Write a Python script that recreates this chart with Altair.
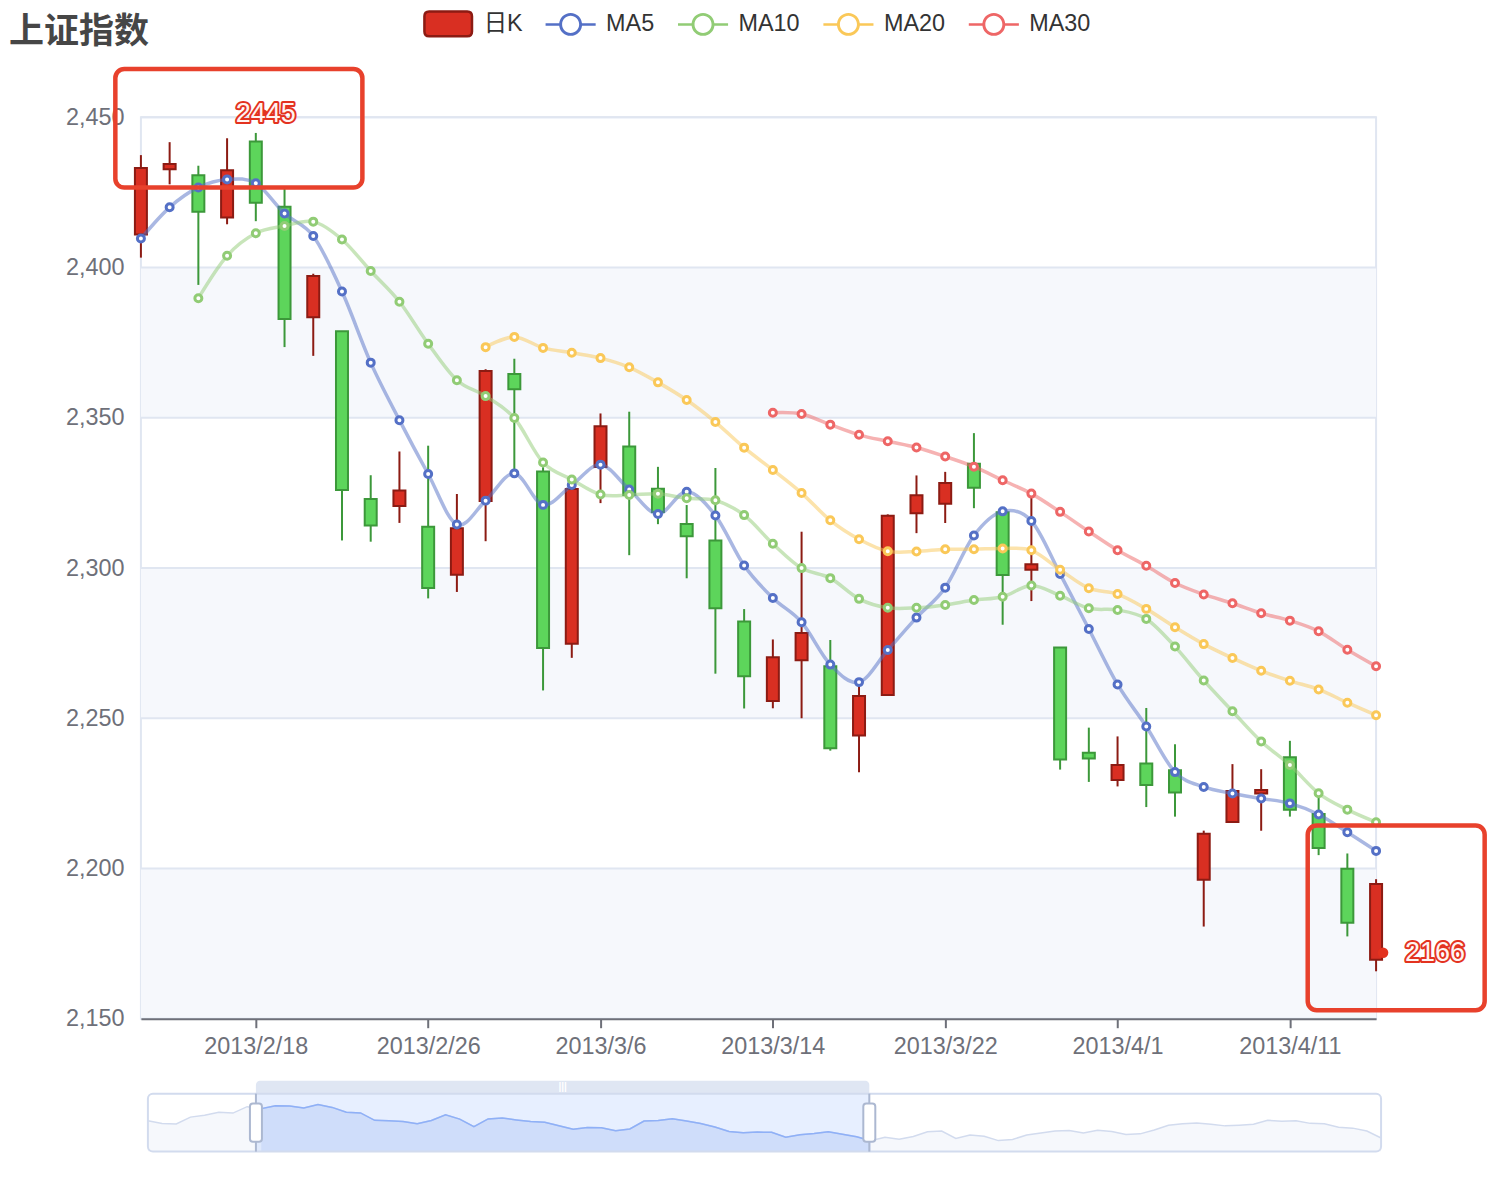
import json
import altair as alt
import pandas as pd

# ---------------- data (上证指数, daily K: open / close / low / high) ----------------
dates = ['2013/1/24', '2013/1/25', '2013/1/28', '2013/1/29', '2013/1/30', '2013/1/31', '2013/2/1', '2013/2/4',
         '2013/2/5', '2013/2/6', '2013/2/7', '2013/2/8', '2013/2/18', '2013/2/19', '2013/2/20', '2013/2/21',
         '2013/2/22', '2013/2/25', '2013/2/26', '2013/2/27', '2013/2/28', '2013/3/1', '2013/3/4', '2013/3/5',
         '2013/3/6', '2013/3/7', '2013/3/8', '2013/3/11', '2013/3/12', '2013/3/13', '2013/3/14', '2013/3/15',
         '2013/3/18', '2013/3/19', '2013/3/20', '2013/3/21', '2013/3/22', '2013/3/25', '2013/3/26', '2013/3/27',
         '2013/3/28', '2013/3/29', '2013/4/1', '2013/4/2', '2013/4/3', '2013/4/8', '2013/4/9', '2013/4/10',
         '2013/4/11', '2013/4/12', '2013/4/15', '2013/4/16', '2013/4/17', '2013/4/18', '2013/4/19', '2013/4/22',
         '2013/4/23', '2013/4/24', '2013/4/25', '2013/4/26', '2013/5/2', '2013/5/3', '2013/5/6', '2013/5/7',
         '2013/5/8', '2013/5/9', '2013/5/10', '2013/5/13', '2013/5/14', '2013/5/15', '2013/5/16', '2013/5/17',
         '2013/5/20', '2013/5/21', '2013/5/22', '2013/5/23', '2013/5/24', '2013/5/27', '2013/5/28', '2013/5/29',
         '2013/5/30', '2013/5/31', '2013/6/3', '2013/6/4', '2013/6/5', '2013/6/6', '2013/6/7', '2013/6/13']
opens = [2320.26, 2300, 2295.35, 2347.22, 2360.75, 2383.43, 2377.41, 2425.92, 2411, 2432.68, 2430.69, 2416.62,
         2441.91, 2420.26, 2383.49, 2378.82, 2322.94, 2320.62, 2313.74, 2297.77, 2322.32, 2364.54, 2332.08, 2274.81,
         2333.61, 2340.44, 2326.42, 2314.68, 2309.16, 2282.17, 2255.77, 2269.31, 2267.29, 2244.26, 2257.74, 2318.21,
         2321.4, 2334.74, 2318.58, 2299.38, 2273.55, 2238.49, 2229.46, 2234.9, 2232.69, 2196.24, 2215.47, 2224.93,
         2236.98, 2218.09, 2199.91, 2169.63, 2195.03, 2181.82, 2201.12, 2236.4, 2242.62, 2187.35, 2213.19, 2203.89,
         2170.78, 2179.05, 2212.5, 2227.86, 2242.39, 2246.96, 2228.82, 2247.68, 2238.9, 2217.09, 2221.34, 2249.81,
         2286.33, 2297.11, 2303.75, 2293.81, 2281.45, 2286.66, 2293.4, 2323.54, 2316.25, 2320.74, 2300.21, 2297.1,
         2270.71, 2264.43, 2242.26, 2190.1]
closes = [2320.26, 2291.3, 2346.5, 2358.98, 2382.48, 2385.42, 2419.02, 2428.15, 2433.13, 2434.48, 2418.53, 2432.4,
          2421.56, 2382.91, 2397.18, 2325.95, 2314.16, 2325.82, 2293.34, 2313.22, 2365.59, 2359.51, 2273.4, 2326.31,
          2347.18, 2324.29, 2318.61, 2310.59, 2286.6, 2263.97, 2270.28, 2278.4, 2240.02, 2257.43, 2317.37, 2324.24,
          2328.28, 2326.72, 2297.67, 2301.26, 2236.3, 2236.62, 2234.4, 2227.74, 2225.29, 2211.59, 2225.77, 2226.13,
          2219.55, 2206.78, 2181.94, 2194.85, 2193.8, 2197.6, 2244.64, 2242.17, 2184.54, 2218.32, 2199.31, 2177.91,
          2174.12, 2205.5, 2231.17, 2235.57, 2246.3, 2232.97, 2246.83, 2241.92, 2217.01, 2224.8, 2251.81, 2282.87,
          2299.99, 2305.11, 2302.4, 2275.67, 2288.53, 2293.08, 2321.32, 2324.02, 2317.75, 2300.59, 2299.25, 2272.42,
          2270.93, 2242.11, 2210.9, 2148.35]
lows = [2287.3, 2288.26, 2295.35, 2337.35, 2347.89, 2371.23, 2369.57, 2417.58, 2403.3, 2427.7, 2394.22, 2414.4,
        2415.43, 2373.53, 2370.61, 2309.17, 2308.76, 2315.01, 2289.89, 2292.03, 2308.92, 2330.86, 2259.25, 2270.1,
        2321.6, 2304.27, 2314.59, 2296.58, 2264.83, 2253.25, 2253.31, 2250, 2239.21, 2232.02, 2257.42, 2311.6,
        2314.97, 2319.91, 2281.12, 2289, 2232.91, 2228.81, 2227.31, 2220.44, 2217.25, 2180.67, 2215.47, 2212.56,
        2217.26, 2204.44, 2177.39, 2165.78, 2178.47, 2175.44, 2200.58, 2232.26, 2182.81, 2184.11, 2191.85, 2173.86,
        2161.14, 2179.05, 2212.5, 2219.44, 2235.42, 2221.38, 2225.81, 2231.36, 2205.87, 2213.58, 2210.77, 2248.41,
        2281.9, 2290.12, 2292.43, 2274.1, 2270.25, 2283.94, 2281.47, 2321.17, 2310.49, 2299.37, 2294.11, 2264.76,
        2260.87, 2240.07, 2205.07, 2126.22]
highs = [2362.94, 2308.38, 2346.92, 2363.8, 2383.76, 2391.82, 2421.15, 2440.38, 2437.42, 2441.73, 2433.89, 2443.03,
         2444.8, 2427.07, 2397.94, 2378.82, 2330.88, 2338.78, 2340.71, 2324.63, 2366.16, 2369.65, 2333.54, 2328.14,
         2351.44, 2352.02, 2333.67, 2320.96, 2333.29, 2286.33, 2276.22, 2312.08, 2276.05, 2261.31, 2317.86, 2330.81,
         2332, 2344.89, 2319.99, 2323.48, 2273.55, 2246.87, 2243.95, 2253.42, 2241.34, 2212.59, 2234.73, 2233.04,
         2242.48, 2226.26, 2204.99, 2196.43, 2197.51, 2206.03, 2250.11, 2245.12, 2242.62, 2226.12, 2224.63, 2210.58,
         2179.65, 2222.81, 2236.07, 2240.26, 2255.21, 2247.86, 2247.67, 2250.85, 2239.93, 2225.19, 2252.87, 2288.09,
         2309.39, 2305.3, 2314.18, 2304.95, 2292.59, 2301.7, 2322.1, 2334.33, 2325.72, 2325.53, 2313.43, 2297.1,
         2276.86, 2266.69, 2250.63, 2190.1]
N = len(dates)
assert len(opens) == N and len(closes) == N and len(lows) == N and len(highs) == N

# visible window (data indices) and data-zoom slider range (percent)
VIEW_START, VIEW_END = 8, 51
ZOOM_START_PCT, ZOOM_END_PCT = 8.76, 58.5

ma_names = ['MA5', 'MA10', 'MA20', 'MA30']
ma_days = [5, 10, 20, 30]
ma_colors = ['#5470c6', '#91cc75', '#fac858', '#ee6666']
y_ticks = [2150, 2200, 2250, 2300, 2350, 2400, 2450]
x_label_idx = [12, 18, 24, 30, 36, 42, 48]
band_lo = [2150, 2250, 2350]
band_hi = [2200, 2300, 2400]
# red highlight boxes (data units: index / price)
box_x0 = [7.11, 48.62]
box_x1 = [15.71, 54.78]
box_y0 = [2426.6, 2152.8]
box_y1 = [2466.1, 2214.3]

# ---------------- style ----------------
UP_FILL, UP_LINE = '#d92f22', '#8c1b13'
DN_FILL, DN_LINE = '#5dd55b', '#3c983a'
GRID, AXIS = '#e0e6f1', '#6e7079'
PIN = '#e3321f'
BOX = '#e8412c'
FONT = 'Liberation Sans, Noto Sans CJK SC, sans-serif'
CJK = 'Noto Sans CJK SC'
W, H = 1236, 902

df = pd.DataFrame({'idx': list(range(N)), 'date': dates, 'open': opens, 'close': closes,
                   'low': lows, 'high': highs})

xscale = alt.Scale(domain=[VIEW_START, VIEW_END], nice=False, zero=False, padding=0)
yscale = alt.Scale(domain=[y_ticks[0], y_ticks[-1]], nice=False, zero=False, padding=0)
xaxis = alt.Axis(values=x_label_idx, labelExpr=json.dumps(dates) + '[datum.value]', grid=False,
                 domainColor=AXIS, domainWidth=2, tickColor=AXIS, tickWidth=2, tickSize=9,
                 labelColor=AXIS, labelFont=FONT, labelFontSize=23.4, labelPadding=8,
                 labelFlush=False, labelOverlap=False, zindex=1)
yaxis = alt.Axis(values=y_ticks, format=',d', grid=False, domain=False, ticks=False,
                 labelColor=AXIS, labelFont=FONT, labelFontSize=23.4, labelPadding=17)


def X(f):
    return alt.X(f, scale=xscale, axis=xaxis, title=None)


def Y(f):
    return alt.Y(f, scale=yscale, axis=yaxis, title=None)


# background split areas + grid
bands = alt.Chart(pd.DataFrame({'lo': band_lo, 'hi': band_hi, 'xs': VIEW_START, 'xe': VIEW_END})).mark_rect(
    fill='#f6f8fc').encode(x=X('xs:Q'), x2='xe:Q', y=Y('lo:Q'), y2='hi:Q')
grid = alt.Chart(pd.DataFrame({'v': y_ticks, 'xs': VIEW_START, 'xe': VIEW_END})).mark_rule(
    stroke=GRID, strokeWidth=2).encode(x=X('xs:Q'), x2='xe:Q', y=Y('v:Q'))

# legend (only source of the colour legend): rounded rect for 日K, stub + ring for the MA lines
# symbol box is 28px (14px per path unit); paths reach +-25px horizontally
series_domain = ['日K'] + ma_names
series_colors = [UP_FILL] + ma_colors
RECT_PATH = ('M-1.36,-0.89L1.36,-0.89Q1.7,-0.89,1.7,-0.55L1.7,0.55Q1.7,0.89,1.36,0.89L-1.36,0.89'
             'Q-1.7,0.89,-1.7,0.55L-1.7,-0.55Q-1.7,-0.89,-1.36,-0.89Z')
MA_PATH = ('M-1.79,-0.09L-0.8,-0.09L-0.8,0.09L-1.79,0.09Z'
           'M0.8,-0.09L1.79,-0.09L1.79,0.09L0.8,0.09Z'
           'M0.82,0A0.82,0.82,0,1,1,-0.82,0A0.82,0.82,0,1,1,0.82,0Z'
           'M0.61,0A0.61,0.61,0,1,0,-0.61,0A0.61,0.61,0,1,0,0.61,0Z')
legend = alt.Legend(title=None, orient='none', legendX=292, legendY=-109, direction='horizontal', padding=0,
                    symbolSize=784, symbolStrokeWidth=2.5, labelFont=FONT, labelFontSize=23.4,
                    labelColor='#333333', labelOffset=20, columnPadding=17.5, labelLimit=300)
legend_layer = alt.Chart(pd.DataFrame({'series': series_domain})).transform_filter('false').mark_point(
    filled=True, opacity=1, strokeWidth=2.5).encode(
    color=alt.Color('series:N', scale=alt.Scale(domain=series_domain, range=series_colors), legend=legend),
    stroke=alt.Stroke('series:N', scale=alt.Scale(domain=series_domain,
                                                  range=[UP_LINE] + ['transparent'] * 4), legend=legend),
    shape=alt.Shape('series:N', scale=alt.Scale(domain=series_domain, range=[RECT_PATH] + [MA_PATH] * 4),
                    legend=legend))

# candlesticks
in_view = f'datum.idx >= {VIEW_START} && datum.idx <= {VIEW_END}'
up = 'datum.close > datum.open'
cbase = alt.Chart(df).transform_filter(in_view)
wick = cbase.mark_rule(strokeWidth=2).encode(
    x=X('idx:Q'), y=Y('low:Q'), y2='high:Q',
    stroke=alt.condition(up, alt.value(UP_LINE), alt.value(DN_LINE)))
body = cbase.mark_bar(width=12, strokeWidth=2).encode(
    x=X('idx:Q'), y=Y('open:Q'), y2='close:Q',
    fill=alt.condition(up, alt.value(UP_FILL), alt.value(DN_FILL)),
    stroke=alt.condition(up, alt.value(UP_LINE), alt.value(DN_LINE)))

# moving averages (computed by Vega-Lite window transforms over the close prices)
ma = alt.Chart(df)
for n, d in zip(ma_names, ma_days):
    ma = ma.transform_window(frame=[-(d - 1), 0], sort=[alt.SortField('idx')], **{n: 'mean(close)'})
ma = ma.transform_filter(in_view)
ma_layers = []
for n, d, c in zip(ma_names, ma_days, ma_colors):
    s = ma.transform_filter(f'datum.idx >= {d}')
    ma_layers.append(s.mark_line(interpolate='cardinal', stroke=c, strokeWidth=3.5, opacity=0.5).encode(
        x=X('idx:Q'), y=Y(f'{n}:Q')))
    ma_layers.append(s.mark_point(filled=False, fill='white', stroke=c, size=49, strokeWidth=3, opacity=1).encode(
        x=X('idx:Q'), y=Y(f'{n}:Q')))

# mark points: highest high / lowest low in view
ext = cbase.transform_joinaggregate(mx='max(high)', mn='min(low)')
max_pt = ext.transform_filter('datum.high === datum.mx')
min_pt = ext.transform_filter('datum.low === datum.mn')


def pin(chart, field):
    return chart.mark_point(shape='circle', filled=True, fill=PIN, size=110, xOffset=7, yOffset=-18.5,
                            opacity=1, strokeWidth=0).encode(x=X('idx:Q'), y=Y(f'{field}:Q'))


def label(chart, field, dx):
    enc = dict(x=X('idx:Q'), y=Y(f'{field}:Q'), text=alt.Text(f'{field}:Q', format='.0f'))
    a = chart.mark_text(dx=dx, dy=-18.5, font=FONT, fontSize=27, fill=PIN, stroke=PIN, strokeWidth=4,
                        strokeJoin='round').encode(**enc)
    b = chart.mark_text(dx=dx, dy=-18.5, font=FONT, fontSize=27, fill='#fff3f1').encode(**enc)
    return [a, b]


boxes = alt.Chart(pd.DataFrame({'x0': box_x0, 'x1': box_x1, 'y0': box_y0, 'y1': box_y1})).mark_rect(
    fillOpacity=0, stroke=BOX, strokeWidth=4.5, cornerRadius=9, clip=False).encode(
    x=X('x0:Q'), x2='x1:Q', y=Y('y0:Q'), y2='y1:Q')

main = alt.layer(
    bands, grid, legend_layer, wick, body, *ma_layers,
    pin(max_pt, 'high'), pin(min_pt, 'low'),
    *label(max_pt, 'high', 10), *label(min_pt, 'low', 59),
    boxes,
).properties(
    width=W, height=H,
    title=alt.TitleParams(text='上证指数', anchor='start', frame='group', font=CJK, fontSize=35,
                          fontWeight='bold', color='#464646', dx=-132, dy=-16.5, offset=0),
    view=alt.ViewBackground(stroke=GRID, strokeWidth=2),
)

# ---------------- data-zoom slider ----------------
S_BOX_W, S_W, S_BOX_H, S_BAR_H = 1234, 1241, 58, 13
o_min, o_max = min(opens), max(opens)
sl_lo = o_min - 0.3 * (o_max - o_min)
sl_hi = o_max + 0.3 * (o_max - o_min)
sl_top = sl_hi + (sl_hi - sl_lo) * S_BAR_H / S_BOX_H
zs = ZOOM_START_PCT / 100 * (N - 1)
ze = ZOOM_END_PCT / 100 * (N - 1)
sx = alt.Scale(domain=[-(S_W - S_BOX_W) / S_BOX_W * (N - 1), N - 1], nice=False, zero=False, padding=0)
sy = alt.Scale(domain=[sl_lo, sl_top], nice=False, zero=False, padding=0)


def SX(f):
    return alt.X(f, scale=sx, axis=None)


def SY(f):
    return alt.Y(f, scale=sy, axis=None)


s_df = pd.DataFrame({'idx': list(range(N)), 'open': opens})
frame_df = pd.DataFrame({'x0': [0], 'x1': [N - 1], 'y0': [sl_lo], 'y1': [sl_hi]})
sel_df = pd.DataFrame({'x0': [zs], 'x1': [ze], 'y0': [sl_lo], 'y1': [sl_hi], 'yt': [sl_top],
                       'xm': [(zs + ze) / 2], 'ym': [(sl_hi + sl_top) / 2]})
h_df = pd.DataFrame({'pos': [zs, ze], 'y0': sl_lo, 'y1': sl_hi,
                     'h0': sl_lo + 0.17 * (sl_hi - sl_lo), 'h1': sl_lo + 0.83 * (sl_hi - sl_lo)})

s_bg = alt.Chart(frame_df).mark_rect(fill='white').encode(x=SX('x0:Q'), x2='x1:Q', y=SY('y0:Q'), y2='y1:Q')
s_area = alt.Chart(s_df).mark_area(fill='#d2dbee', fillOpacity=0.2).encode(
    x=SX('idx:Q'), y=SY('open:Q'), y2=alt.datum(sl_lo))
s_line = alt.Chart(s_df).mark_line(stroke='#d2dbee', strokeWidth=1.5).encode(x=SX('idx:Q'), y=SY('open:Q'))
s_fill = alt.Chart(sel_df).mark_rect(fill='#87afff', fillOpacity=0.2).encode(
    x=SX('x0:Q'), x2='x1:Q', y=SY('y0:Q'), y2='y1:Q')
sel_src = alt.Chart(s_df).transform_filter(in_view)
s_sel_area = sel_src.mark_area(fill='#8fb0f7', fillOpacity=0.2).encode(
    x=SX('idx:Q'), y=SY('open:Q'), y2=alt.datum(sl_lo))
s_sel_line = sel_src.mark_line(stroke='#8fb0f7', strokeWidth=1.5).encode(x=SX('idx:Q'), y=SY('open:Q'))
s_frame = alt.Chart(frame_df).mark_rect(fillOpacity=0, stroke='#d2dbee', strokeWidth=2, cornerRadius=5).encode(
    x=SX('x0:Q'), x2='x1:Q', y=SY('y0:Q'), y2='y1:Q')
s_move = alt.Chart(sel_df).mark_rect(fill='#d2dbee', opacity=0.7, cornerRadiusTopLeft=4,
                                     cornerRadiusTopRight=4).encode(
    x=SX('x0:Q'), x2='x1:Q', y=SY('y1:Q'), y2='yt:Q')
s_icon = alt.Chart(sel_df).mark_text(text='|||', fill='white', font=FONT, fontSize=10, fontWeight='bold').encode(
    x=SX('xm:Q'), y=SY('ym:Q'))
s_hline = alt.Chart(h_df).mark_rule(stroke='#acb8d1', strokeWidth=2).encode(
    x=SX('pos:Q'), y=SY('y0:Q'), y2='y1:Q')
s_handle = alt.Chart(h_df).mark_bar(width=12, fill='white', stroke='#acb8d1', strokeWidth=2, cornerRadius=3).encode(
    x=SX('pos:Q'), y=SY('h0:Q'), y2='h1:Q')

slider = alt.layer(s_bg, s_area, s_line, s_fill, s_sel_area, s_sel_line, s_frame, s_move, s_icon,
                   s_hline, s_handle).properties(width=S_W, height=S_BOX_H + S_BAR_H)

chart = alt.vconcat(main, slider, spacing=20).properties(padding=0).configure_view(stroke='transparent')

chart.save('out.html', embed_options={'renderer': 'svg', 'actions': False})
